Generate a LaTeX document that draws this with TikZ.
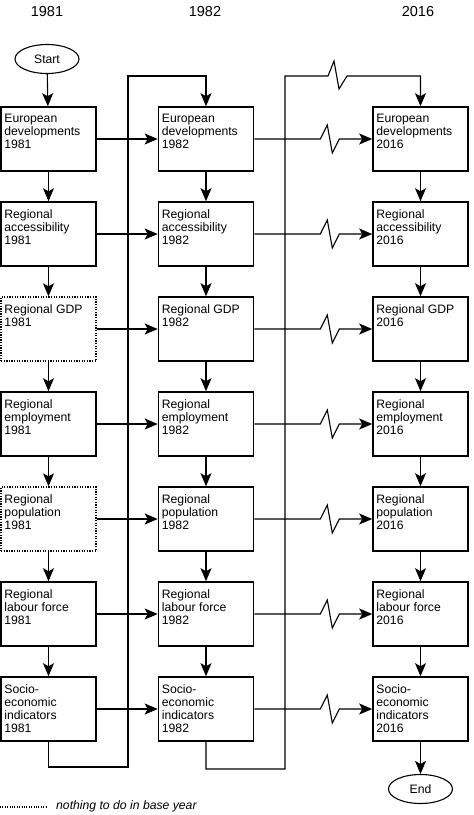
\documentclass[tikz,border=0pt]{standalone}
\usepackage{fontspec}
\setmainfont{Liberation Sans}
\usetikzlibrary{arrows.meta,shapes.geometric}
\tikzset{
  box/.style={draw, line width=1.6pt, minimum width=95pt, minimum height=64pt, inner sep=0pt},
  dotbox/.style={box, line width=1.4pt, dash pattern=on 1.3pt off 1.3pt},
  txt/.style={anchor=north west, inner sep=0pt, align=left, font=\fontsize{12.2}{13}\selectfont},
  conn/.style={line width=1.1pt},
  arr/.style={conn, -{Stealth[length=13pt,width=11pt,inset=3pt]}},
  term/.style={draw, ellipse, line width=1.1pt, minimum width=64pt, minimum height=29pt, inner sep=0pt, font=\fontsize{12.2}{13}\selectfont},
  head/.style={font=\fontsize{14.5}{16}\selectfont, inner sep=0pt},
}
\begin{document}
\begin{tikzpicture}[x=1pt,y=-1pt]
\useasboundingbox (0,0) rectangle (474,815);
% headers
\node[head] (h1) at (47,12) {1981};
\node[head] (h2) at (205,12) {1982};
\node[head] (h3) at (418,12) {2016};
% start / end
\node[term] (start) at (47,59) {Start};
\node[term] (end) at (420.5,789) {End};
% boxes
\foreach \c/\x/\yr in {1/48.5/1981,2/206/1982,3/420.5/2016}{
  \foreach \r/\lab in {0/{European\\developments},1/{Regional\\accessibility},2/{Regional GDP},3/{Regional\\employment},4/{Regional\\population},5/{Regional\\labour force},6/{Socio-\\economic\\indicators}}{
    \def\bs{box}
    \ifnum\c=1 \ifnum\r=2 \def\bs{dotbox}\fi\ifnum\r=4 \def\bs{dotbox}\fi\fi
    \pgfmathsetmacro\yc{139+95*\r}
    \node[\bs] (b\c-\r) at (\x,\yc) {};
    \node[txt] (t\c-\r) at ([xshift=4pt,yshift=-8pt]b\c-\r.north west) {\lab\\\yr};
  }
}
% vertical arrows
\draw[arr] (start) -- (b1-0);
\foreach \c in {1,2,3}{
  \foreach \r [evaluate=\r as \n using int(\r+1)] in {0,...,5}{
    \draw[arr] (b\c-\r.south) -- (b\c-\n.north);
  }
}
\draw[arr] (b3-6.south) -- (end);
% horizontal arrows
\foreach \r in {0,...,6}{
  \draw[arr] (b1-\r.east) -- (b2-\r.west);
  \draw[arr] (b2-\r.east) -- ++(66,0) -- ++(7,-14) -- ++(5,28) -- ++(7,-14) -- (b3-\r.west);
}
% loop-back lines
\coordinate (c1) at (128,767);
\coordinate (c2) at (128,76);
\draw[arr] (b1-6.south) |- (c1) -- (c2) -| (b2-0.north);
\coordinate (d1) at (285,769);
\coordinate (d2) at (285,76);
\draw[arr] (b2-6.south) |- (d1) -- (d2) -- ++(43,0) -- ++(6,-15) -- ++(5,28) -- ++(8,-13) -| (b3-0.north);
% legend
\coordinate (lg1) at (0,807);
\coordinate (lg2) at (47,807);
\draw[line width=1.1pt, dash pattern=on 1pt off 1.4pt] (lg1) -- (lg2);
\node[anchor=west, inner sep=0pt, font=\fontsize{12.2}{13}\selectfont\itshape] (legend) at (56,806) {nothing to do in base year};
\end{tikzpicture}
\end{document}
